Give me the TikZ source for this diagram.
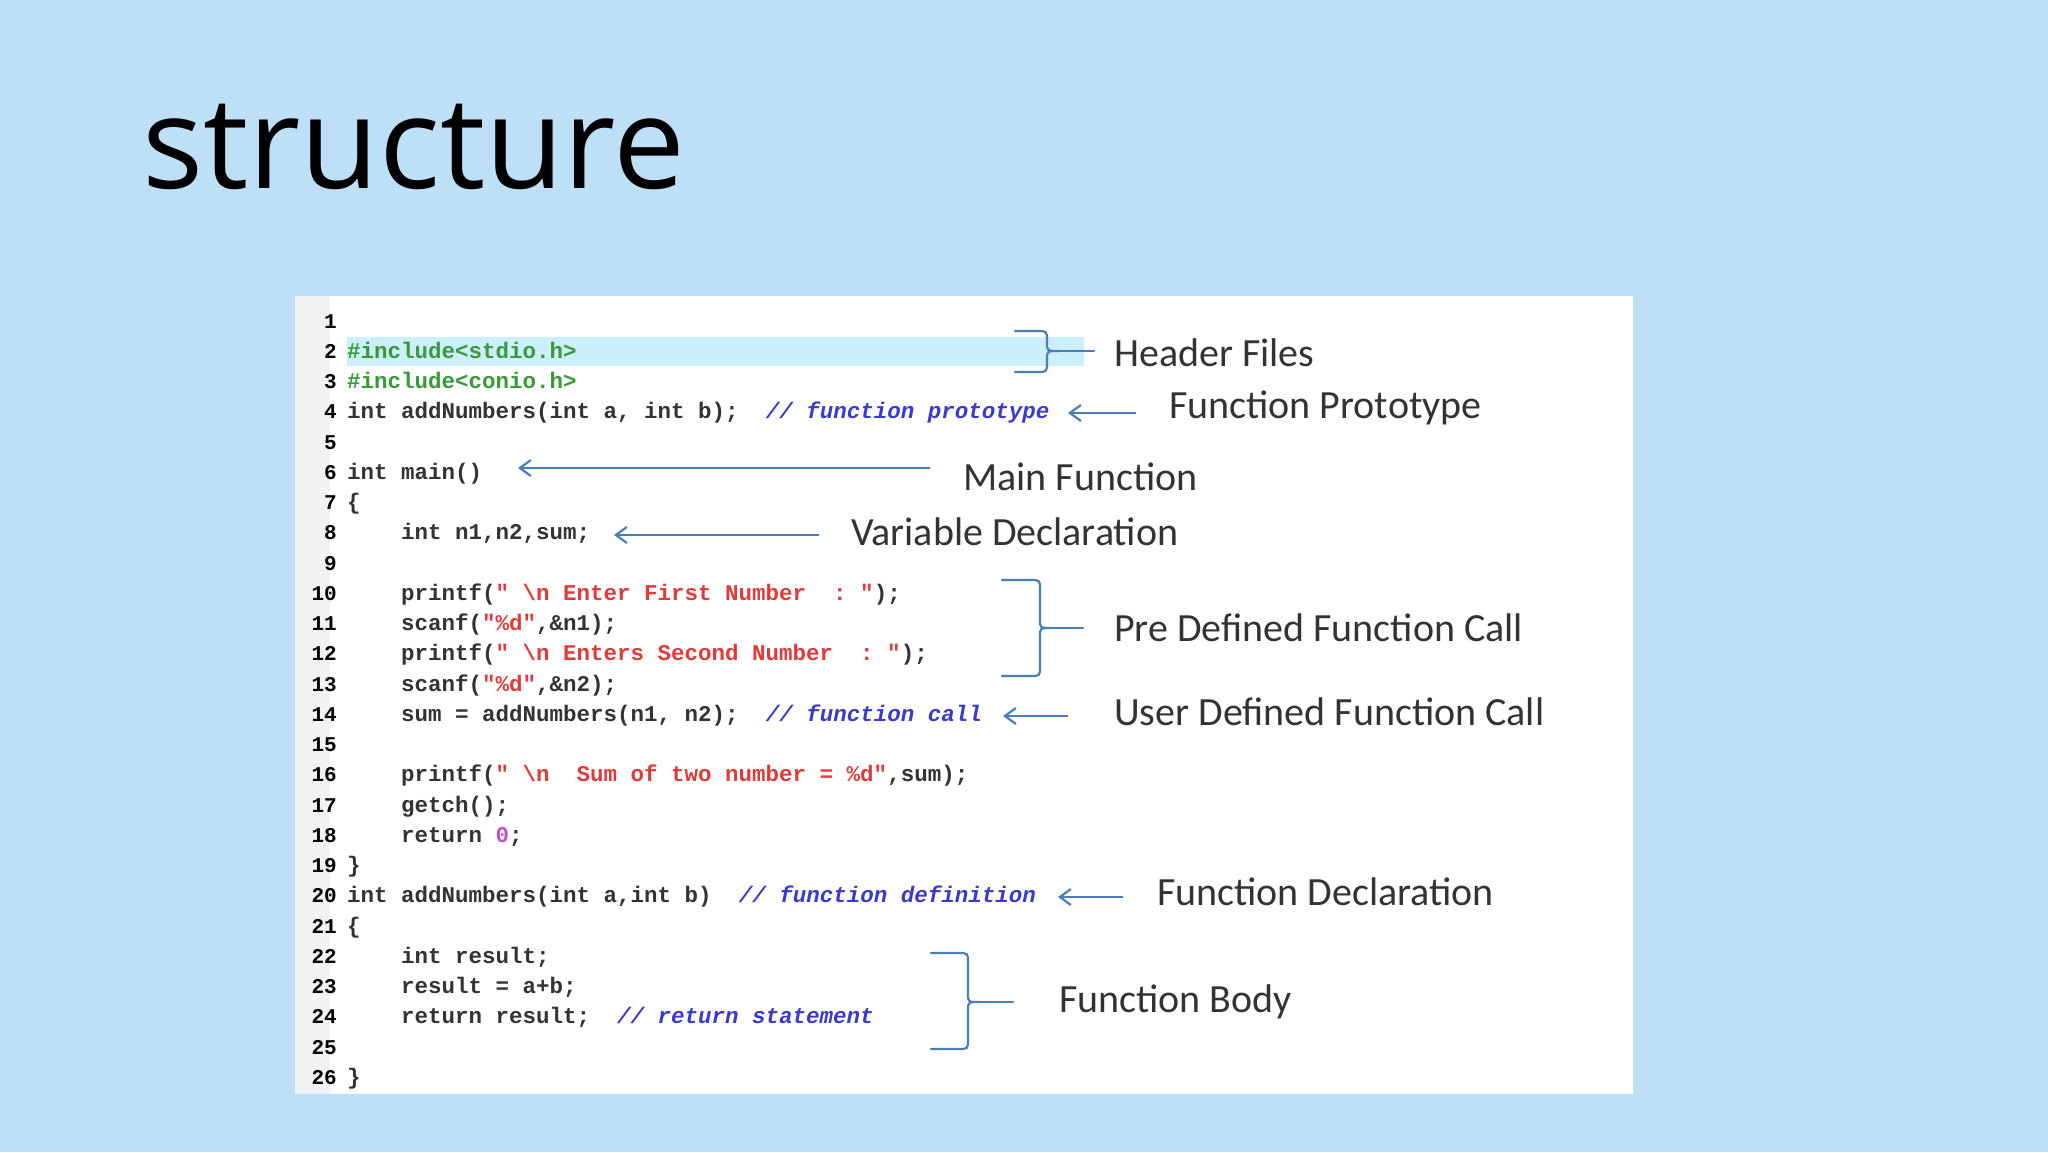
\documentclass[tikz,border=0pt]{standalone}
\usepackage{fontspec}
\usetikzlibrary{arrows.meta}
\setmainfont{Open Sans}
\newfontfamily\lblfont{Carlito}
\newfontfamily\codefont{Liberation Mono}
\definecolor{bgblue}{HTML}{BDE0F7}
\definecolor{arr}{HTML}{4A7EBB}
\definecolor{cgreen}{HTML}{3A9A3A}
\definecolor{cblue}{HTML}{3A3ACC}
\definecolor{cred}{HTML}{E23A3A}
\definecolor{cpur}{HTML}{C050C0}
\definecolor{ctxt}{HTML}{333333}
\newcommand\cm[1]{\textcolor{cblue}{\itshape #1}}
\newcommand\rs[1]{\textcolor{cred}{#1}}
\newcommand\bs{\textbackslash}
\newcommand\mybrace[5]{%
  \draw[brc] (#1,#3) -- ({#2-10},#3) .. controls (#2,#3) .. (#2,{#3+10})
    -- (#2,{#4-8}) .. controls (#2,#4) .. ({#2+12},#4)
    .. controls (#2,#4) .. (#2,{#4+8}) -- (#2,{#5-10})
    .. controls (#2,#5) .. ({#2-10},#5) -- (#1,#5);}
\frenchspacing
\begin{document}
\begin{tikzpicture}[x=1pt,y=-1pt,
  code/.style={anchor=base west,inner sep=0pt,font=\codefont\bfseries\fontsize{22.5}{24}\selectfont,text=ctxt},
  lno/.style={anchor=base east,inner sep=0pt,font=\codefont\bfseries\fontsize{21}{24}\selectfont,text=black},
  lbl/.style={anchor=west,inner sep=0pt,font=\lblfont\fontsize{40}{44}\selectfont,text=black!80},
  arrw/.style={draw=arr,line width=2.2pt,-{Straight Barb[length=11pt,width=16pt]}},
  brc/.style={draw=arr,line width=2.2pt,line cap=round}]
\useasboundingbox (0,0) rectangle (2048,1152);
\fill[bgblue] (0,0) rectangle (2048,1152);
\node[anchor=base west,inner sep=0pt,font=\fontsize{128}{140}\selectfont] (title) at (142,188) {structure};
\fill[white] (295,296) rectangle (1633,1094);
\fill[black!5] (295,296) rectangle (330,1094);
\fill[cyan!20] (347,337) rectangle (1084,366);
\foreach \n in {1,...,26}{
  \node[lno] (n\n) at (337,{328+(\n-1)*30.25}) {\n};
}
\def\ry#1{{328+(#1-1)*30.25}}
\node[code] (c2) at (347,\ry{2}) {\textcolor{cgreen}{\#include<stdio.h>}};
\node[code] (c3) at (347,\ry{3}) {\textcolor{cgreen}{\#include<conio.h>}};
\node[code] (c4) at (347,\ry{4}) {int addNumbers(int a, int b);~~\cm{// function prototype}};
\node[code] (c6) at (347,\ry{6}) {int main()};
\node[code] (c7) at (347,\ry{7}) {\{};
\node[code] (c8) at (401,\ry{8}) {int n1,n2,sum;};
\node[code] (c10) at (401,\ry{10}) {printf(\rs{"~\bs n Enter First Number~~:~"});};
\node[code] (c11) at (401,\ry{11}) {scanf(\rs{"\%d"},\&n1);};
\node[code] (c12) at (401,\ry{12}) {printf(\rs{"~\bs n Enters Second Number~~:~"});};
\node[code] (c13) at (401,\ry{13}) {scanf(\rs{"\%d"},\&n2);};
\node[code] (c14) at (401,\ry{14}) {sum = addNumbers(n1, n2);~~\cm{// function call}};
\node[code] (c16) at (401,\ry{16}) {printf(\rs{"~\bs n~~Sum of two number = \%d"},sum);};
\node[code] (c17) at (401,\ry{17}) {getch();};
\node[code] (c18) at (401,\ry{18}) {return \textcolor{cpur}{0};};
\node[code] (c19) at (347,\ry{19}) {\}};
\node[code] (c20) at (347,\ry{20}) {int addNumbers(int a,int b)~~\cm{// function definition}};
\node[code] (c21) at (347,\ry{21}) {\{};
\node[code] (c22) at (401,\ry{22}) {int result;};
\node[code] (c23) at (401,\ry{23}) {result = a+b;};
\node[code] (c24) at (401,\ry{24}) {return result;~~\cm{// return statement}};
\node[code] (c26) at (347,\ry{26}) {\}};
% labels
\node[lbl] (hf) at (1114,353) {Header Files};
\node[lbl] (fp) at (1169,408) {Function Prototype};
\node[lbl] (mf) at (963,477) {Main Function};
\node[lbl] (vd) at (851,532) {Variable Declaration};
\node[lbl] (pd) at (1114,628) {Pre Defined Function Call};
\node[lbl] (ud) at (1114,712) {User Defined Function Call};
\node[lbl] (fd) at (1157,892) {Function Declaration};
\node[lbl] (fb) at (1059,1002) {Function Body};
% arrow targets
\coordinate (tfp) at (1068,413);
\coordinate (tmf) at (518,468);
\coordinate (tvd) at (614,535);
\coordinate (tud) at (1003,716);
\coordinate (tfd) at (1058,897);
\draw[arrw] (1136,413) -- (tfp);
\draw[arrw] (930,468) -- (tmf);
\draw[arrw] (819,535) -- (tvd);
\draw[arrw] (1068,716) -- (tud);
\draw[arrw] (1123,897) -- (tfd);
% braces
\mybrace{1015}{1047}{331}{351}{372}
\coordinate (bh) at (1094,351);
\draw[brc] (1059,351) -- (bh);
\mybrace{1002}{1040}{580}{628}{676}
\coordinate (bp) at (1083,628);
\draw[brc] (1052,628) -- (bp);
\mybrace{931}{968}{953}{1002}{1049}
\coordinate (bb) at (1013,1002);
\draw[brc] (980,1002) -- (bb);
\end{tikzpicture}
\end{document}
